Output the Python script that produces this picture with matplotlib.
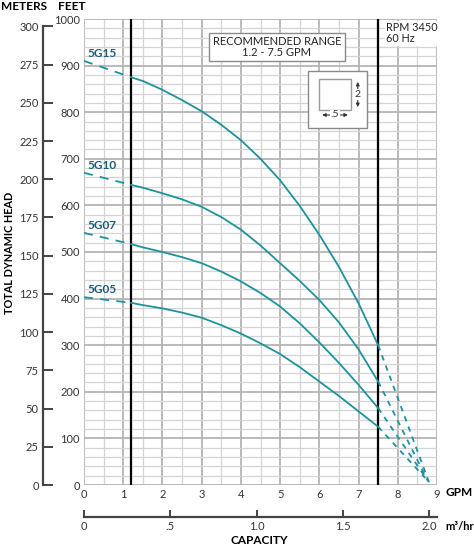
import numpy as np
import matplotlib
matplotlib.use("Agg")
from matplotlib import pyplot as plt

plt.rcParams['font.family'] = ['Lato', 'DejaVu Sans']

# performance curves (GPM, feet)
models = ['5G15', '5G10', '5G07', '5G05']
gpm = [1.2, 1.5, 2, 2.5, 3, 3.5, 4, 4.5, 5, 5.5, 6, 6.5, 7, 7.5]
head5G15 = [875, 867, 848, 826, 802, 773, 740, 700, 654, 599, 537, 468, 390, 300]
head5G10 = [644, 638, 626, 613, 597, 575, 548, 514, 476, 438, 397, 349, 291, 222]
head5G07 = [517, 510, 500, 489, 476, 458, 437, 412, 383, 347, 306, 262, 215, 165]
head5G05 = [391, 386, 379, 370, 359, 343, 325, 304, 281, 253, 222, 191, 158, 125]
shutoff = [910, 670, 541, 403]          # head at 0 GPM (dashed part)
runout_gpm = [8.80, 8.77, 8.74, 8.70]   # end of dashed tail
runout_head = [5, 8, 12, 15]
label_head = [925, 685, 556, 420]
heads = [head5G15, head5G10, head5G07, head5G05]

rec_range = [1.2, 7.5]
gpm_ticks = list(range(0, 10))
feet_ticks = list(range(0, 1001, 100))
meter_ticks = list(range(0, 301, 25))
m3_ticks = [0, 0.5, 1.0, 1.5, 2.0]
m3_labels = ['0', '.5', '1.0', '1.5', '2.0']

curveCol = '#1c939c'
labelCol = '#1d5c78'
W, H = 474, 548

fig = plt.figure(figsize=(W/100, H/100), dpi=100)
ax = fig.add_axes([84/W, 1-485/H, 353/W, 466/H])
ax.set_xlim(0, 9)
ax.set_ylim(0, 1000)

# grid
for x in np.arange(0, 9.01, 0.5):
    major = abs(x - round(x)) < 1e-6
    ax.axvline(x, color='#b4b4b4' if major else '#d4d4d4', lw=1.3 if major else 0.9, zorder=1)
for y in range(0, 1001, 20):
    major = y % 100 == 0
    ax.axhline(y, color='#b4b4b4' if major else '#d4d4d4', lw=1.3 if major else 0.9, zorder=1)
for s in ax.spines.values():
    s.set_visible(False)

for x in rec_range:
    ax.axvline(x, color='black', lw=1.6, zorder=3)

for i, name in enumerate(models):
    h = heads[i]
    ax.plot(gpm, h, color=curveCol, lw=1.3, zorder=4, solid_joinstyle='round')
    ax.plot([0, gpm[0]], [shutoff[i], h[0]], color=curveCol, lw=1.3,
            dashes=(5, 4), zorder=4)
    ax.plot([gpm[-1], runout_gpm[i]], [h[-1], runout_head[i]], color=curveCol,
            lw=1.3, dashes=(3, 3), zorder=4)
    ax.text(0.09, label_head[i], name, color=labelCol, fontsize=8.5,
            fontweight='bold', va='center', ha='left', zorder=5)

ax.set_xticks(gpm_ticks)
ax.set_yticks(feet_ticks)
ax.tick_params(length=0, labelsize=8, colors='#333333', pad=3)

# recommended range box
ax.text(4.92, 940, 'RECOMMENDED RANGE\n1.2 - 7.5 GPM', ha='center', va='center',
        fontsize=8, color='#222222', linespacing=1.0, zorder=6,
        bbox=dict(boxstyle='square,pad=0.3', fc='white', ec='#8a8a8a', lw=1))

# scale key box
ax.add_patch(plt.Rectangle((5.72, 766), 1.49, 122, fc='white', ec='#8a8a8a', lw=1, zorder=6))
ax.add_patch(plt.Rectangle((6.0, 805), 0.8, 66, fc='white', ec='#9a9a9a', lw=1, zorder=7))
ax.annotate('', xy=(6.98, 871), xytext=(6.98, 805), zorder=8,
            arrowprops=dict(arrowstyle='<|-|>', color='#333333', lw=0.8, mutation_scale=5))
ax.text(6.98, 838, '2', ha='center', va='center', fontsize=7.5, color='#333333', zorder=9,
        bbox=dict(fc='white', ec='none', pad=0.5))
ax.annotate('', xy=(6.0, 794), xytext=(6.8, 794), zorder=8,
            arrowprops=dict(arrowstyle='<|-|>', color='#333333', lw=0.8, mutation_scale=5))
ax.text(6.4, 794, '.5', ha='center', va='center', fontsize=7.5, color='#333333', zorder=9,
        bbox=dict(fc='white', ec='none', pad=0.5))

ax.text(7.7, 993, 'RPM 3450\n60 Hz', ha='left', va='top', fontsize=7.8,
        color='#222222', linespacing=1.0, zorder=6,
        bbox=dict(fc='white', ec='none', pad=1))

# meters axis
axm = fig.add_axes([43/W, 1-485/H, 0.001, 466/H])
axm.set_ylim(0, 1000/3.28084)
axm.set_yticks(meter_ticks)
axm.set_xticks([])
for k in ['top', 'right', 'bottom']:
    axm.spines[k].set_visible(False)
axm.spines['left'].set_bounds(0, 300)
axm.spines['left'].set_color('#444444')
axm.spines['left'].set_linewidth(1.6)
axm.tick_params(axis='y', direction='in', length=7, width=1.4, color='#444444',
                labelsize=8, labelcolor='#333333', pad=3)
axm.patch.set_visible(False)

# m3/hr axis
axc = fig.add_axes([84/W, 1-517/H, 353/W, 0.001])
axc.set_xlim(0, 9*0.22712)
axc.set_xticks(m3_ticks)
axc.set_xticklabels(m3_labels)
axc.set_yticks([])
for k in ['top', 'right', 'left']:
    axc.spines[k].set_visible(False)
axc.spines['bottom'].set_color('#444444')
axc.spines['bottom'].set_linewidth(1.6)
axc.tick_params(axis='x', direction='in', length=5, width=1.4, color='#444444',
                labelsize=8, labelcolor='#333333', pad=3)
axc.patch.set_visible(False)

# axis titles
fig.text(1/W, 1-6/H, 'METERS', fontsize=8.5, fontweight='bold', va='center', ha='left')
fig.text(58/W, 1-6/H, 'FEET', fontsize=8.5, fontweight='bold', va='center', ha='left')
fig.text(10/W, 1-253/H, 'TOTAL DYNAMIC HEAD', fontsize=7.8, fontweight='bold',
         rotation=90, va='center', ha='center')
fig.text(446/W, 1-492/H, 'GPM', fontsize=8.5, fontweight='bold', va='center', ha='left')
fig.text(445/W, 1-527/H, 'm³/hr', fontsize=8, fontweight='bold', va='center', ha='left')
fig.text(259/W, 1-541/H, 'CAPACITY', fontsize=8.5, fontweight='bold', va='center', ha='center')

fig.savefig('out.png', dpi=100)
